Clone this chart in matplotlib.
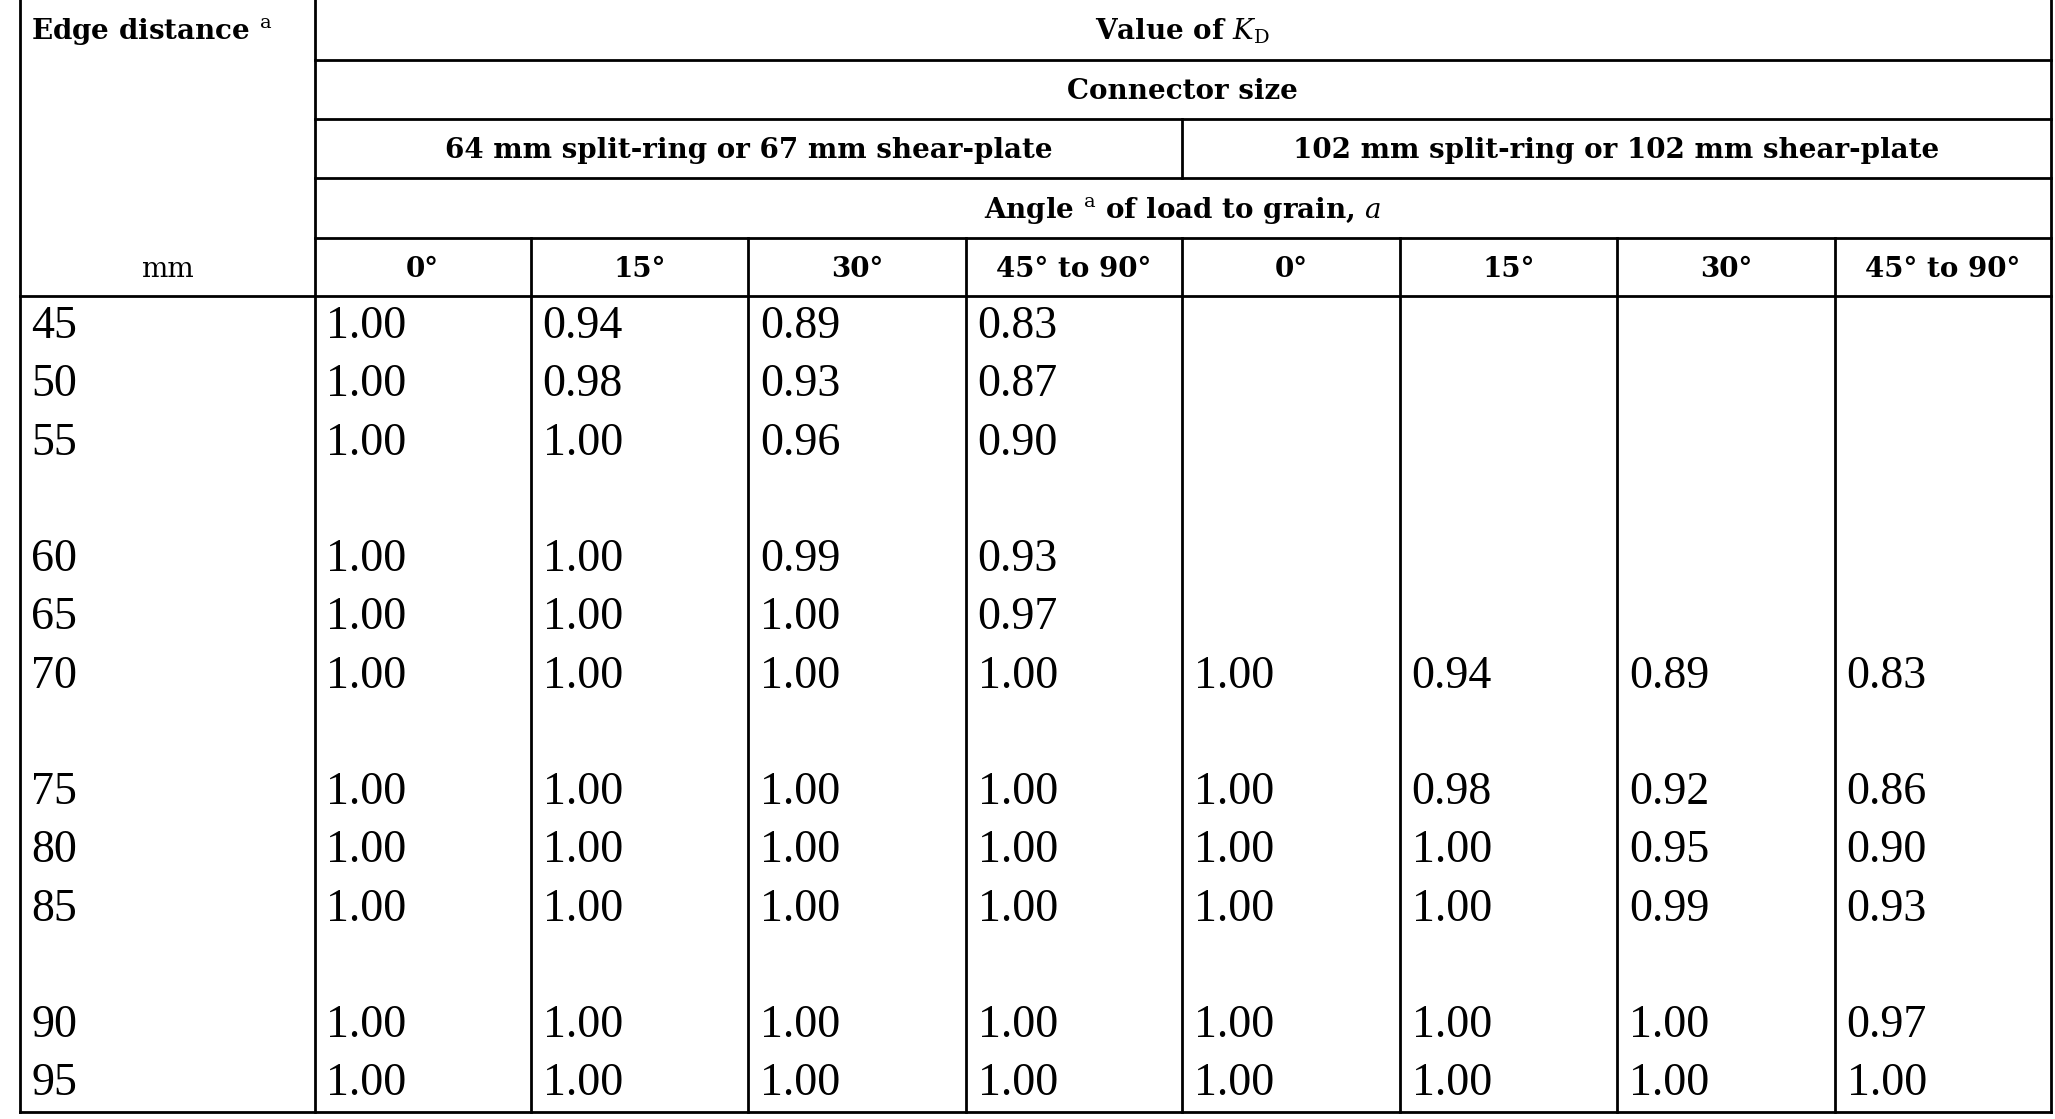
import matplotlib.pyplot as plt

plt.rcParams["font.family"] = ["Liberation Serif", "DejaVu Serif"]
plt.rcParams["mathtext.fontset"] = "dejavuserif"

edge_mm = ["45", "50", "55", "60", "65", "70", "75", "80", "85", "90", "95"]
small_conn = [
    ["1.00", "0.94", "0.89", "0.83"],
    ["1.00", "0.98", "0.93", "0.87"],
    ["1.00", "1.00", "0.96", "0.90"],
    ["1.00", "1.00", "0.99", "0.93"],
    ["1.00", "1.00", "1.00", "0.97"],
    ["1.00", "1.00", "1.00", "1.00"],
    ["1.00", "1.00", "1.00", "1.00"],
    ["1.00", "1.00", "1.00", "1.00"],
    ["1.00", "1.00", "1.00", "1.00"],
    ["1.00", "1.00", "1.00", "1.00"],
    ["1.00", "1.00", "1.00", "1.00"],
]
large_conn = [
    ["", "", "", ""],
    ["", "", "", ""],
    ["", "", "", ""],
    ["", "", "", ""],
    ["", "", "", ""],
    ["1.00", "0.94", "0.89", "0.83"],
    ["1.00", "0.98", "0.92", "0.86"],
    ["1.00", "1.00", "0.95", "0.90"],
    ["1.00", "1.00", "0.99", "0.93"],
    ["1.00", "1.00", "1.00", "0.97"],
    ["1.00", "1.00", "1.00", "1.00"],
]
angles = ["0°", "15°", "30°", "45° to 90°"]

# layout in reference-display units (1568 x 855)
col_x = [15, 240, 405, 571, 737, 902, 1068, 1234, 1400, 1565]
row_y = [246, 290, 335, 424, 468, 513, 602, 646, 691, 780, 824]
bottom = 850

fig = plt.figure(figsize=(20.55, 11.19), dpi=100)
ax = fig.add_axes([0, 0, 1, 1])
ax.set_xlim(0, 1568)
ax.set_ylim(855, 0)
ax.axis("off")

lw = 2.0
kw = dict(color="black", lw=lw)
ax.plot([col_x[0], col_x[0]], [0, bottom], **kw)
ax.plot([col_x[1], col_x[1]], [0, bottom], **kw)
ax.plot([col_x[-1], col_x[-1]], [0, bottom], **kw)
for x in col_x[2:-1]:
    ax.plot([x, x], [182, bottom], **kw)
ax.plot([col_x[5], col_x[5]], [91, 136], **kw)
for y in (46, 91, 136, 182):
    ax.plot([col_x[1], col_x[-1]], [y, y], **kw)
ax.plot([col_x[0], col_x[-1]], [226, 226], **kw)
ax.plot([col_x[0], col_x[-1]], [bottom, bottom], **kw)

hfs = 20
dfs = 33
hfont = dict(family=["DejaVu Serif"], fontsize=hfs, weight="bold", va="center", ha="center")
ax.text(24, 24, "Edge distance $^{\\mathrm{a}}$", **{**hfont, "ha": "left"})
ax.text(128, 206, "mm", family=["DejaVu Serif"], fontsize=hfs, va="center", ha="center")
mid = (col_x[1] + col_x[-1]) / 2
ax.text(mid, 24, "Value of $K_{\\mathrm{D}}$", **hfont)
ax.text(mid, 70, "Connector size", **hfont)
ax.text((col_x[1] + col_x[5]) / 2, 115, "64 mm split-ring or 67 mm shear-plate", **hfont)
ax.text((col_x[5] + col_x[-1]) / 2, 115, "102 mm split-ring or 102 mm shear-plate", **hfont)
ax.text(mid, 161, "Angle $^{\\mathrm{a}}$ of load to grain, $a$", **hfont)
for i in range(8):
    ax.text((col_x[i + 1] + col_x[i + 2]) / 2, 206, angles[i % 4], **hfont)

for r, y in enumerate(row_y):
    ax.text(col_x[0] + 9, y + 4, edge_mm[r], fontsize=dfs, va="center", ha="left")
    vals = small_conn[r] + large_conn[r]
    for c, v in enumerate(vals):
        ax.text(col_x[c + 1] + 9, y + 4, v, fontsize=dfs, va="center", ha="left")

fig.savefig("out.png", dpi=100)
